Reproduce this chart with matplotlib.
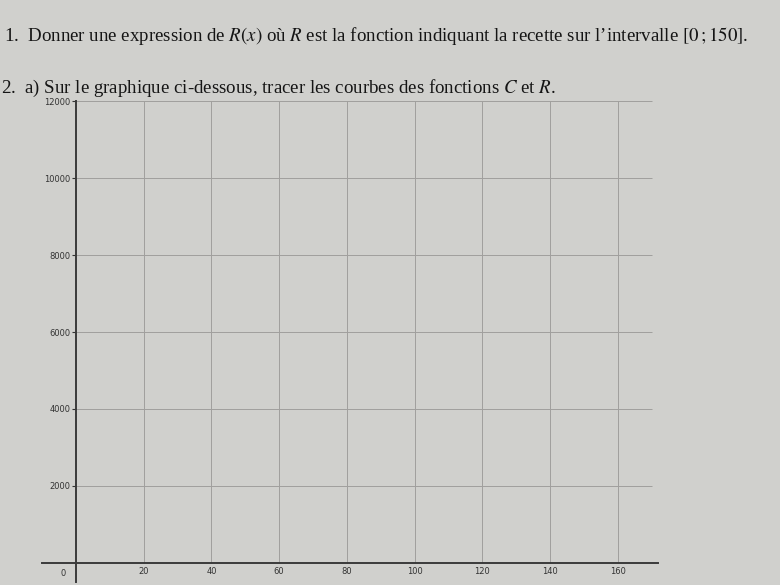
import matplotlib
matplotlib.use("Agg")
import matplotlib.pyplot as plt

# consignes de l'exercice
consigne_1 = "1.  Donner une expression de $R(x)$ où $R$ est la fonction indiquant la recette sur l\u2019intervalle $[0\\,;150]$."
consigne_2 = "2.  a) Sur le graphique ci-dessous, tracer les courbes des fonctions $C$ et $R$."

# graduations du repère
x_ticks = [20, 40, 60, 80, 100, 120, 140, 160]
y_ticks = [2000, 4000, 6000, 8000, 10000, 12000]

papier = "#d0d0cd"
grille = "#a09f9d"

plt.rcParams['mathtext.fontset'] = 'stix'

fig = plt.figure(figsize=(7.8, 5.85), dpi=100)
fig.patch.set_facecolor(papier)

fig.text(0.005, 0.938, consigne_1, family='Liberation Serif', fontsize=13.6,
         color='#151515', va='center')
fig.text(0.001, 0.849, consigne_2, family='Liberation Serif', fontsize=13.6,
         color='#151515', va='center')

ax = fig.add_axes([0.054, 0.005, 0.79, 0.822])
ax.set_facecolor(papier)
ax.set_xlim(-10, 172)
ax.set_ylim(-500, 12000)

ax.spines['left'].set_position(('data', 0))
ax.spines['bottom'].set_position(('data', 0))
ax.spines['top'].set_visible(False)
ax.spines['right'].set_visible(False)
for s in ['left', 'bottom']:
    ax.spines[s].set_color('#3a3a3a')
    ax.spines[s].set_linewidth(1.4)

ax.set_xticks(x_ticks)
ax.set_yticks(y_ticks)
ax.set_xticklabels([str(v) for v in x_ticks])
ax.set_yticklabels([str(v) for v in y_ticks])
ax.tick_params(axis='x', length=0, labelsize=6, colors='#333333', pad=3)
ax.tick_params(axis='y', length=3, width=0.8, labelsize=6, colors='#333333', pad=1)

ax.text(-3, -150, "0", fontsize=6, color='#333333', ha='right', va='top')

# quadrillage seulement dans le quart positif
ax.hlines(y_ticks, 0, 170, color=grille, linewidth=0.7, zorder=0)
ax.vlines(x_ticks, 0, 12000, color=grille, linewidth=0.7, zorder=0)

fig.savefig("out.png", dpi=100, facecolor=papier)
